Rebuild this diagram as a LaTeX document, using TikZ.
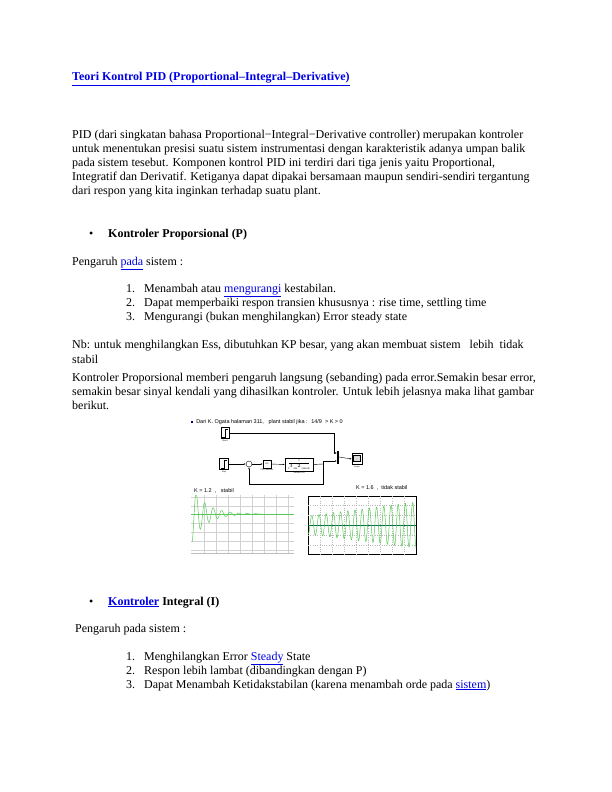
\documentclass[tikz,border=0pt]{standalone}
\usepackage{fontspec}
\setmainfont{Liberation Serif}
\newfontfamily\smallsans{Liberation Sans}
\usetikzlibrary{positioning,arrows.meta}
\definecolor{lnk}{RGB}{0,0,230}
\definecolor{wave}{RGB}{90,200,90}
\newcommand{\lk}[1]{\textcolor{lnk}{\underline{#1}}}
\begin{document}
\begin{tikzpicture}[x=1pt,y=-1pt,
  tx/.style={anchor=base west,inner sep=0pt,font=\fontsize{12}{14}\selectfont},
  sm/.style={inner sep=0pt,font=\smallsans\fontsize{5.5}{6}\selectfont},
  tiny/.style={inner sep=0pt,font=\smallsans\fontsize{2}{2}\selectfont},
  blk/.style={draw,line width=0.4pt,inner sep=0pt,fill=white},
  wire/.style={line width=0.4pt},
  arr/.style={wire,-{Latex[length=2pt,width=1.6pt]}}]
\useasboundingbox (0,0) rectangle (612,792);
\fill[white] (0,0) rectangle (612,792);
\node[tx,font=\bfseries\fontsize{12}{14}\selectfont] (title) at (72,81) {\lk{Teori Kontrol PID (Proportional–Integral–Derivative)}};
\node[tx] (p1) at (72,138) {PID (dari singkatan bahasa Proportional−Integral−Derivative controller) merupakan kontroler};
\node[tx] (p2) at (72,152) {untuk menentukan presisi suatu sistem instrumentasi dengan karakteristik adanya umpan balik};
\node[tx] (p3) at (72,166) {pada sistem tesebut. Komponen kontrol PID ini terdiri dari tiga jenis yaitu Proportional,};
\node[tx] (p4) at (72,180) {Integratif dan Derivatif. Ketiganya dapat dipakai bersamaan maupun sendiri-sendiri tergantung};
\node[tx] (p5) at (72,194) {dari respon yang kita inginkan terhadap suatu plant.};
\node[tx] (b1) at (89,237) {•};
\node[tx] (h1) at (108,237) {\textbf{Kontroler Proporsional (P)}};
\node[tx] (pg1) at (72,265) {Pengaruh \lk{pada} sistem :};
\node[tx] (n1) at (126,292) {1.};\node[tx] (l1) at (144,292) {Menambah atau \lk{mengurangi} kestabilan.};
\node[tx] (n2) at (126,306) {2.};\node[tx] (l2) at (144,306) {Dapat memperbaiki respon transien khususnya : rise time, settling time};
\node[tx] (n3) at (126,320) {3.};\node[tx] (l3) at (144,320) {Mengurangi (bukan menghilangkan) Error steady state};
\node[tx] (nb1) at (72,348) {Nb: untuk menghilangkan Ess, dibutuhkan KP besar, yang akan membuat sistem \ \ lebih \ tidak};
\node[tx] (nb2) at (72,363) {stabil};
\node[tx] (k1) at (72,381) {Kontroler Proporsional memberi pengaruh langsung (sebanding) pada error.Semakin besar error,};
\node[tx] (k2) at (72,395) {semakin besar sinyal kendali yang dihasilkan kontroler. Untuk lebih jelasnya maka lihat gambar};
\node[tx] (k3) at (72,409) {berikut.};
% figure
\node[sm,anchor=west] (fh) at (191,422) {\textcolor{blue!60!black}{\rule{2pt}{2pt}}\ \ Dari K. Ogata halaman 311, \ \ plant stabil jika : \ 14/9 \ > K > 0};
\node[blk,minimum width=8pt,minimum height=11pt] (step1) at (225,433) {};
\draw[wire] (222,437)--(225,437)--(225,429)--(228,429);
\node[tiny,below=1pt of step1] {Step1};
\node[blk,minimum width=9pt,minimum height=11pt] (step) at (224,464) {};
\draw[wire] (221,468)--(224,468)--(224,460)--(227,460);
\node[tiny,below=1pt of step] {Step};
\node[draw,circle,minimum size=6pt,inner sep=0pt] (sum) at (249,464) {};
\node[blk,minimum width=8pt,minimum height=8pt,font=\smallsans\fontsize{2}{2}\selectfont] (pid) at (267,464) {PID};
\node[tiny,below=1pt of pid] {PID Controller};
\node[blk,minimum width=28pt,minimum height=13pt,font=\smallsans\fontsize{2.5}{3}\selectfont,align=center] (tf) at (299,464.5) {1\\[-1pt]\rule{20pt}{0.2pt}\\s$^3$+9s$^2$+14s+K};
\node[tiny,below=1pt of tf] {Transfer Fcn};
\node[fill=black,minimum width=1.6pt,minimum height=13pt,inner sep=0pt] (mux) at (338,457) {};
\node[blk,minimum width=10pt,minimum height=11pt] (scope) at (357,459) {};
\draw[fill=gray!30] (353.5,455) rectangle (360.5,461);
\node[tiny,below=1pt of scope] {Scope};
\coordinate (c1) at (334,433);
\coordinate (c2) at (323,464);
\coordinate (c3) at (323,484);
\coordinate (c4) at (249,484);
\draw[arr] (step1.east)--(c1)--(334,453)--(337,453);
\draw[arr] (step.east)--(sum.west);
\draw[arr] (sum.east)--(pid.west);
\draw[arr] (pid.east)--(tf.west);
\draw[wire] (tf.east)--(c2);
\draw[arr] (c2)--(323,461)--(337,461);
\draw[arr] (c2)--(c3)--(c4)--(sum.south);
\draw[arr] (mux.east)--(scope.west);
% plot 1
\node[sm,anchor=west] (lab1) at (194,491) {K = 1.2 \ , \ \ stabil};
\begin{scope}
\clip (191,495) rectangle (294,553);
\foreach \gx in {204,216,228,240,252,264,276,288} \draw[gray!35,line width=0.3pt] (\gx,495)--(\gx,553);
\foreach \gy in {497,506,523,532,541,550} \draw[gray!35,line width=0.3pt] (191,\gy)--(294,\gy);
\draw[wave,line width=0.4pt] (191,514)--(294,514);
\draw[wave,line width=0.5pt] plot[domain=0:70,samples=300,smooth] ({192+\x},{514+28*exp(-\x/14)*cos(42.35*\x)});
\end{scope}
\draw[gray!50,line width=0.3pt] (191,553)--(294,553);
% plot 2
\node[sm,anchor=west] (lab2) at (356,488) {K = 1.6 \ , \ tidak stabil};
\node[draw,line width=0.6pt,minimum width=108pt,minimum height=58pt,inner sep=0pt] (box2) at (362,525) {};
\begin{scope}
\clip (box2.south west) rectangle (box2.north east);
\foreach \gx in {320,332,344,356,368,380,392,404} \draw[gray!55,dotted,line width=0.3pt] (\gx,496)--(\gx,554);
\foreach \gy in {505,515,535,545} \draw[gray!55,dotted,line width=0.3pt] (308,\gy)--(416,\gy);
\draw[blue!40!green!70!black,line width=0.4pt] (308,525)--(416,525);
\draw[wave,line width=0.5pt] plot[domain=0:108,samples=500,smooth] ({308+\x},{525-(9+0.13*\x)*sin(50*(\x-2))});
\end{scope}
% section I
\node[tx] (b2) at (89,605) {•};
\node[tx] (h2) at (108,605) {\textbf{\lk{Kontroler} Integral (I)}};
\node[tx] (pg2) at (75,632) {Pengaruh pada sistem :};
\node[tx] (m1) at (126,660) {1.};\node[tx] (i1) at (144,660) {Menghilangkan Error \lk{Steady} State};
\node[tx] (m2) at (126,674) {2.};\node[tx] (i2) at (144,674) {Respon lebih lambat (dibandingkan dengan P)};
\node[tx] (m3) at (126,688) {3.};\node[tx] (i3) at (144,688) {Dapat Menambah Ketidakstabilan (karena menambah orde pada \lk{sistem})};
\end{tikzpicture}
\end{document}
